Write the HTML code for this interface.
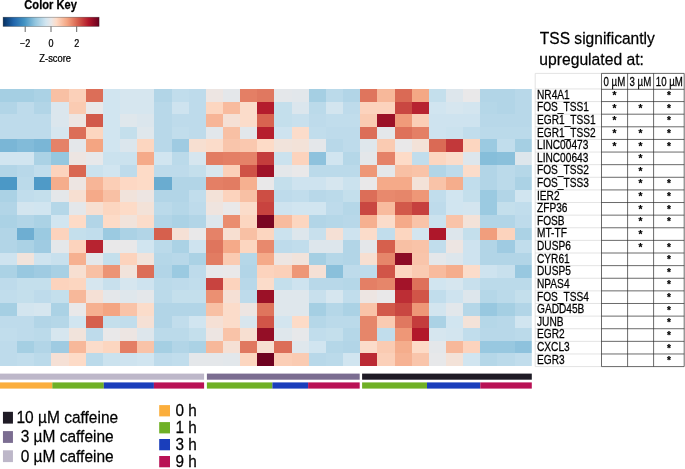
<!DOCTYPE html>
<html><head><meta charset="utf-8"><title>Heatmap</title>
<style>html,body{margin:0;padding:0;background:#fff}svg{display:block}text{font-family:"Liberation Sans",sans-serif;fill:#000;stroke:#000;stroke-width:0.25px}</style>
</head><body>
<svg width="685" height="469" viewBox="0 0 685 469">
<rect width="685" height="469" fill="#fff"/>
<defs><linearGradient id="kg" x1="0" x2="1" y1="0" y2="0">
<stop offset="0.0000" stop-color="#053061"/>
<stop offset="0.1111" stop-color="#2166AC"/>
<stop offset="0.2222" stop-color="#4393C3"/>
<stop offset="0.3333" stop-color="#92C5DE"/>
<stop offset="0.4444" stop-color="#D1E5F0"/>
<stop offset="0.5" stop-color="#e9e8e9"/>
<stop offset="0.5556" stop-color="#FDDBC7"/>
<stop offset="0.6667" stop-color="#F4A582"/>
<stop offset="0.7778" stop-color="#D6604D"/>
<stop offset="0.8889" stop-color="#B2182B"/>
<stop offset="1.0000" stop-color="#67001F"/>
</linearGradient></defs>
<text transform="translate(50.6 8.9) scale(0.92 1)" font-size="12.1" font-weight="bold" text-anchor="middle">Color Key</text>
<rect x="3.1" y="17.2" width="96" height="9.2" fill="url(#kg)" stroke="#222" stroke-opacity="0.55" stroke-width="0.6"/>
<line x1="25.2" y1="26.5" x2="25.2" y2="32" stroke="#555" stroke-width="0.9"/>
<text transform="translate(25.2 46.6) scale(0.9 1)" font-size="10.0" text-anchor="middle" fill="#111">−2</text>
<line x1="51.0" y1="26.5" x2="51.0" y2="32" stroke="#555" stroke-width="0.9"/>
<text transform="translate(51.0 46.6) scale(0.9 1)" font-size="10.0" text-anchor="middle" fill="#111">0</text>
<line x1="76.7" y1="26.5" x2="76.7" y2="32" stroke="#555" stroke-width="0.9"/>
<text transform="translate(76.7 46.6) scale(0.9 1)" font-size="10.0" text-anchor="middle" fill="#111">2</text>
<text transform="translate(55.2 61.75) scale(0.91 1)" font-size="10.3" text-anchor="middle" fill="#111">Z-score</text>
<g shape-rendering="crispEdges">
<rect x="0.00" y="89.00" width="17.75" height="13.19" fill="#a5cfe3"/>
<rect x="17.15" y="89.00" width="17.75" height="13.19" fill="#a5cfe3"/>
<rect x="34.31" y="89.00" width="17.75" height="13.19" fill="#abd2e5"/>
<rect x="51.46" y="89.00" width="17.75" height="13.19" fill="#f8c0a4"/>
<rect x="68.62" y="89.00" width="17.75" height="13.19" fill="#fbd0b9"/>
<rect x="85.77" y="89.00" width="17.75" height="13.19" fill="#dc6e58"/>
<rect x="102.93" y="89.00" width="17.75" height="13.19" fill="#d1e5f0"/>
<rect x="120.08" y="89.00" width="17.75" height="13.19" fill="#d6e6ef"/>
<rect x="137.24" y="89.00" width="17.75" height="13.19" fill="#d6e6ef"/>
<rect x="154.39" y="89.00" width="17.75" height="13.19" fill="#b2d5e7"/>
<rect x="171.55" y="89.00" width="17.75" height="13.19" fill="#c1ddec"/>
<rect x="188.70" y="89.00" width="17.75" height="13.19" fill="#bedbeb"/>
<rect x="205.86" y="89.00" width="17.75" height="13.19" fill="#ede5e2"/>
<rect x="223.01" y="89.00" width="17.75" height="13.19" fill="#e4e7ea"/>
<rect x="240.17" y="89.00" width="17.75" height="13.19" fill="#e47f65"/>
<rect x="257.32" y="89.00" width="17.75" height="13.19" fill="#e07860"/>
<rect x="274.48" y="89.00" width="17.75" height="13.19" fill="#e4e7ea"/>
<rect x="291.63" y="89.00" width="17.75" height="13.19" fill="#e2e7eb"/>
<rect x="308.79" y="89.00" width="17.75" height="13.19" fill="#a5cfe3"/>
<rect x="325.94" y="89.00" width="17.75" height="13.19" fill="#bbdaea"/>
<rect x="343.10" y="89.00" width="17.75" height="13.19" fill="#b2d5e7"/>
<rect x="360.25" y="89.00" width="17.75" height="13.19" fill="#df755d"/>
<rect x="377.41" y="89.00" width="17.75" height="13.19" fill="#f7b89a"/>
<rect x="394.56" y="89.00" width="17.75" height="13.19" fill="#da6a55"/>
<rect x="411.72" y="89.00" width="17.75" height="13.19" fill="#f4a885"/>
<rect x="428.87" y="89.00" width="17.75" height="13.19" fill="#c4dfec"/>
<rect x="446.03" y="89.00" width="17.75" height="13.19" fill="#dde6ec"/>
<rect x="463.18" y="89.00" width="17.75" height="13.19" fill="#e9e8e9"/>
<rect x="480.34" y="89.00" width="17.75" height="13.19" fill="#b2d5e7"/>
<rect x="497.49" y="89.00" width="17.75" height="13.19" fill="#b2d5e7"/>
<rect x="514.65" y="89.00" width="17.75" height="13.19" fill="#b8d8e9"/>
<rect x="0.00" y="101.59" width="17.75" height="13.19" fill="#b2d5e7"/>
<rect x="17.15" y="101.59" width="17.75" height="13.19" fill="#bedbeb"/>
<rect x="34.31" y="101.59" width="17.75" height="13.19" fill="#b2d5e7"/>
<rect x="51.46" y="101.59" width="17.75" height="13.19" fill="#dbe6ed"/>
<rect x="68.62" y="101.59" width="17.75" height="13.19" fill="#facbb2"/>
<rect x="85.77" y="101.59" width="17.75" height="13.19" fill="#e9e8e9"/>
<rect x="102.93" y="101.59" width="17.75" height="13.19" fill="#d1e5f0"/>
<rect x="120.08" y="101.59" width="17.75" height="13.19" fill="#d6e6ef"/>
<rect x="137.24" y="101.59" width="17.75" height="13.19" fill="#d6e6ef"/>
<rect x="154.39" y="101.59" width="17.75" height="13.19" fill="#b8d8e9"/>
<rect x="171.55" y="101.59" width="17.75" height="13.19" fill="#cee3ef"/>
<rect x="188.70" y="101.59" width="17.75" height="13.19" fill="#bedbeb"/>
<rect x="205.86" y="101.59" width="17.75" height="13.19" fill="#fcd6c0"/>
<rect x="223.01" y="101.59" width="17.75" height="13.19" fill="#f8bb9e"/>
<rect x="240.17" y="101.59" width="17.75" height="13.19" fill="#fbdcca"/>
<rect x="257.32" y="101.59" width="17.75" height="13.19" fill="#b41c2d"/>
<rect x="274.48" y="101.59" width="17.75" height="13.19" fill="#c4dfec"/>
<rect x="291.63" y="101.59" width="17.75" height="13.19" fill="#dbe6ed"/>
<rect x="308.79" y="101.59" width="17.75" height="13.19" fill="#bbdaea"/>
<rect x="325.94" y="101.59" width="17.75" height="13.19" fill="#d3e5ef"/>
<rect x="343.10" y="101.59" width="17.75" height="13.19" fill="#bedbeb"/>
<rect x="360.25" y="101.59" width="17.75" height="13.19" fill="#fcd3bd"/>
<rect x="377.41" y="101.59" width="17.75" height="13.19" fill="#fcd3bd"/>
<rect x="394.56" y="101.59" width="17.75" height="13.19" fill="#c94741"/>
<rect x="411.72" y="101.59" width="17.75" height="13.19" fill="#b72330"/>
<rect x="428.87" y="101.59" width="17.75" height="13.19" fill="#d1e5f0"/>
<rect x="446.03" y="101.59" width="17.75" height="13.19" fill="#d6e6ef"/>
<rect x="463.18" y="101.59" width="17.75" height="13.19" fill="#d3e5ef"/>
<rect x="480.34" y="101.59" width="17.75" height="13.19" fill="#b5d7e8"/>
<rect x="497.49" y="101.59" width="17.75" height="13.19" fill="#b2d5e7"/>
<rect x="514.65" y="101.59" width="17.75" height="13.19" fill="#b8d8e9"/>
<rect x="0.00" y="114.18" width="17.75" height="13.19" fill="#bedbeb"/>
<rect x="17.15" y="114.18" width="17.75" height="13.19" fill="#bedbeb"/>
<rect x="34.31" y="114.18" width="17.75" height="13.19" fill="#bedbeb"/>
<rect x="51.46" y="114.18" width="17.75" height="13.19" fill="#dbe6ed"/>
<rect x="68.62" y="114.18" width="17.75" height="13.19" fill="#ede5e2"/>
<rect x="85.77" y="114.18" width="17.75" height="13.19" fill="#d2594a"/>
<rect x="102.93" y="114.18" width="17.75" height="13.19" fill="#d1e5f0"/>
<rect x="120.08" y="114.18" width="17.75" height="13.19" fill="#dfe7ec"/>
<rect x="137.24" y="114.18" width="17.75" height="13.19" fill="#dbe6ed"/>
<rect x="154.39" y="114.18" width="17.75" height="13.19" fill="#b8d8e9"/>
<rect x="171.55" y="114.18" width="17.75" height="13.19" fill="#bedbeb"/>
<rect x="188.70" y="114.18" width="17.75" height="13.19" fill="#bedbeb"/>
<rect x="205.86" y="114.18" width="17.75" height="13.19" fill="#f7b597"/>
<rect x="223.01" y="114.18" width="17.75" height="13.19" fill="#f5e0d5"/>
<rect x="240.17" y="114.18" width="17.75" height="13.19" fill="#fbdcca"/>
<rect x="257.32" y="114.18" width="17.75" height="13.19" fill="#d86350"/>
<rect x="274.48" y="114.18" width="17.75" height="13.19" fill="#c4dfec"/>
<rect x="291.63" y="114.18" width="17.75" height="13.19" fill="#c8e0ed"/>
<rect x="308.79" y="114.18" width="17.75" height="13.19" fill="#bedbeb"/>
<rect x="325.94" y="114.18" width="17.75" height="13.19" fill="#c1ddec"/>
<rect x="343.10" y="114.18" width="17.75" height="13.19" fill="#c1ddec"/>
<rect x="360.25" y="114.18" width="17.75" height="13.19" fill="#facbb2"/>
<rect x="377.41" y="114.18" width="17.75" height="13.19" fill="#9b1127"/>
<rect x="394.56" y="114.18" width="17.75" height="13.19" fill="#f09b7a"/>
<rect x="411.72" y="114.18" width="17.75" height="13.19" fill="#fbceb6"/>
<rect x="428.87" y="114.18" width="17.75" height="13.19" fill="#cee3ef"/>
<rect x="446.03" y="114.18" width="17.75" height="13.19" fill="#cee3ef"/>
<rect x="463.18" y="114.18" width="17.75" height="13.19" fill="#cee3ef"/>
<rect x="480.34" y="114.18" width="17.75" height="13.19" fill="#b8d8e9"/>
<rect x="497.49" y="114.18" width="17.75" height="13.19" fill="#b8d8e9"/>
<rect x="514.65" y="114.18" width="17.75" height="13.19" fill="#b8d8e9"/>
<rect x="0.00" y="126.77" width="17.75" height="13.19" fill="#bedbeb"/>
<rect x="17.15" y="126.77" width="17.75" height="13.19" fill="#bedbeb"/>
<rect x="34.31" y="126.77" width="17.75" height="13.19" fill="#bedbeb"/>
<rect x="51.46" y="126.77" width="17.75" height="13.19" fill="#d6e6ef"/>
<rect x="68.62" y="126.77" width="17.75" height="13.19" fill="#dc6e58"/>
<rect x="85.77" y="126.77" width="17.75" height="13.19" fill="#fcd6c0"/>
<rect x="102.93" y="126.77" width="17.75" height="13.19" fill="#d1e5f0"/>
<rect x="120.08" y="126.77" width="17.75" height="13.19" fill="#c4dfec"/>
<rect x="137.24" y="126.77" width="17.75" height="13.19" fill="#dfe7ec"/>
<rect x="154.39" y="126.77" width="17.75" height="13.19" fill="#b8d8e9"/>
<rect x="171.55" y="126.77" width="17.75" height="13.19" fill="#c1ddec"/>
<rect x="188.70" y="126.77" width="17.75" height="13.19" fill="#bedbeb"/>
<rect x="205.86" y="126.77" width="17.75" height="13.19" fill="#e2e7eb"/>
<rect x="223.01" y="126.77" width="17.75" height="13.19" fill="#f8c0a4"/>
<rect x="240.17" y="126.77" width="17.75" height="13.19" fill="#e2e7eb"/>
<rect x="257.32" y="126.77" width="17.75" height="13.19" fill="#b61f2e"/>
<rect x="274.48" y="126.77" width="17.75" height="13.19" fill="#cee3ef"/>
<rect x="291.63" y="126.77" width="17.75" height="13.19" fill="#fbdcca"/>
<rect x="308.79" y="126.77" width="17.75" height="13.19" fill="#c1ddec"/>
<rect x="325.94" y="126.77" width="17.75" height="13.19" fill="#bedbeb"/>
<rect x="343.10" y="126.77" width="17.75" height="13.19" fill="#bedbeb"/>
<rect x="360.25" y="126.77" width="17.75" height="13.19" fill="#dc6e58"/>
<rect x="377.41" y="126.77" width="17.75" height="13.19" fill="#e4e7ea"/>
<rect x="394.56" y="126.77" width="17.75" height="13.19" fill="#de715a"/>
<rect x="411.72" y="126.77" width="17.75" height="13.19" fill="#e47f65"/>
<rect x="428.87" y="126.77" width="17.75" height="13.19" fill="#cee3ef"/>
<rect x="446.03" y="126.77" width="17.75" height="13.19" fill="#cbe2ee"/>
<rect x="463.18" y="126.77" width="17.75" height="13.19" fill="#c1ddec"/>
<rect x="480.34" y="126.77" width="17.75" height="13.19" fill="#bbdaea"/>
<rect x="497.49" y="126.77" width="17.75" height="13.19" fill="#bbdaea"/>
<rect x="514.65" y="126.77" width="17.75" height="13.19" fill="#bbdaea"/>
<rect x="0.00" y="139.36" width="17.75" height="13.19" fill="#7ab6d6"/>
<rect x="17.15" y="139.36" width="17.75" height="13.19" fill="#82bbd9"/>
<rect x="34.31" y="139.36" width="17.75" height="13.19" fill="#7ab6d6"/>
<rect x="51.46" y="139.36" width="17.75" height="13.19" fill="#e58268"/>
<rect x="68.62" y="139.36" width="17.75" height="13.19" fill="#e4e7ea"/>
<rect x="85.77" y="139.36" width="17.75" height="13.19" fill="#f4a582"/>
<rect x="102.93" y="139.36" width="17.75" height="13.19" fill="#d1e5f0"/>
<rect x="120.08" y="139.36" width="17.75" height="13.19" fill="#dbe6ed"/>
<rect x="137.24" y="139.36" width="17.75" height="13.19" fill="#fcd6c0"/>
<rect x="154.39" y="139.36" width="17.75" height="13.19" fill="#b8d8e9"/>
<rect x="171.55" y="139.36" width="17.75" height="13.19" fill="#9fcbe2"/>
<rect x="188.70" y="139.36" width="17.75" height="13.19" fill="#f7dfd1"/>
<rect x="205.86" y="139.36" width="17.75" height="13.19" fill="#fbdcca"/>
<rect x="223.01" y="139.36" width="17.75" height="13.19" fill="#f9c5ab"/>
<rect x="240.17" y="139.36" width="17.75" height="13.19" fill="#fac8af"/>
<rect x="257.32" y="139.36" width="17.75" height="13.19" fill="#fddbc7"/>
<rect x="274.48" y="139.36" width="17.75" height="13.19" fill="#f1e3db"/>
<rect x="291.63" y="139.36" width="17.75" height="13.19" fill="#f3e2d8"/>
<rect x="308.79" y="139.36" width="17.75" height="13.19" fill="#e4e7ea"/>
<rect x="325.94" y="139.36" width="17.75" height="13.19" fill="#b8d8e9"/>
<rect x="343.10" y="139.36" width="17.75" height="13.19" fill="#bedbeb"/>
<rect x="360.25" y="139.36" width="17.75" height="13.19" fill="#dfe7ec"/>
<rect x="377.41" y="139.36" width="17.75" height="13.19" fill="#facbb2"/>
<rect x="394.56" y="139.36" width="17.75" height="13.19" fill="#e9e8e9"/>
<rect x="411.72" y="139.36" width="17.75" height="13.19" fill="#f3e2d8"/>
<rect x="428.87" y="139.36" width="17.75" height="13.19" fill="#da6a55"/>
<rect x="446.03" y="139.36" width="17.75" height="13.19" fill="#c2383a"/>
<rect x="463.18" y="139.36" width="17.75" height="13.19" fill="#fcd6c0"/>
<rect x="480.34" y="139.36" width="17.75" height="13.19" fill="#9bcae1"/>
<rect x="497.49" y="139.36" width="17.75" height="13.19" fill="#c1ddec"/>
<rect x="514.65" y="139.36" width="17.75" height="13.19" fill="#a5cfe3"/>
<rect x="0.00" y="151.95" width="17.75" height="13.19" fill="#d1e5f0"/>
<rect x="17.15" y="151.95" width="17.75" height="13.19" fill="#d1e5f0"/>
<rect x="34.31" y="151.95" width="17.75" height="13.19" fill="#abd2e5"/>
<rect x="51.46" y="151.95" width="17.75" height="13.19" fill="#95c7df"/>
<rect x="68.62" y="151.95" width="17.75" height="13.19" fill="#ede5e2"/>
<rect x="85.77" y="151.95" width="17.75" height="13.19" fill="#e7e8ea"/>
<rect x="102.93" y="151.95" width="17.75" height="13.19" fill="#cbe2ee"/>
<rect x="120.08" y="151.95" width="17.75" height="13.19" fill="#cbe2ee"/>
<rect x="137.24" y="151.95" width="17.75" height="13.19" fill="#f5aa89"/>
<rect x="154.39" y="151.95" width="17.75" height="13.19" fill="#d1e5f0"/>
<rect x="171.55" y="151.95" width="17.75" height="13.19" fill="#bbdaea"/>
<rect x="188.70" y="151.95" width="17.75" height="13.19" fill="#d6e6ef"/>
<rect x="205.86" y="151.95" width="17.75" height="13.19" fill="#e27c62"/>
<rect x="223.01" y="151.95" width="17.75" height="13.19" fill="#e47f65"/>
<rect x="240.17" y="151.95" width="17.75" height="13.19" fill="#e58268"/>
<rect x="257.32" y="151.95" width="17.75" height="13.19" fill="#c43c3c"/>
<rect x="274.48" y="151.95" width="17.75" height="13.19" fill="#cbe2ee"/>
<rect x="291.63" y="151.95" width="17.75" height="13.19" fill="#fcd3bd"/>
<rect x="308.79" y="151.95" width="17.75" height="13.19" fill="#8ec2dd"/>
<rect x="325.94" y="151.95" width="17.75" height="13.19" fill="#d1e5f0"/>
<rect x="343.10" y="151.95" width="17.75" height="13.19" fill="#b5d7e8"/>
<rect x="360.25" y="151.95" width="17.75" height="13.19" fill="#e4e7ea"/>
<rect x="377.41" y="151.95" width="17.75" height="13.19" fill="#e58268"/>
<rect x="394.56" y="151.95" width="17.75" height="13.19" fill="#fddbc7"/>
<rect x="411.72" y="151.95" width="17.75" height="13.19" fill="#c1ddec"/>
<rect x="428.87" y="151.95" width="17.75" height="13.19" fill="#fcd6c0"/>
<rect x="446.03" y="151.95" width="17.75" height="13.19" fill="#fbdcca"/>
<rect x="463.18" y="151.95" width="17.75" height="13.19" fill="#dde6ec"/>
<rect x="480.34" y="151.95" width="17.75" height="13.19" fill="#86beda"/>
<rect x="497.49" y="151.95" width="17.75" height="13.19" fill="#8ac0db"/>
<rect x="514.65" y="151.95" width="17.75" height="13.19" fill="#dde6ec"/>
<rect x="0.00" y="164.55" width="17.75" height="13.19" fill="#b2d5e7"/>
<rect x="17.15" y="164.55" width="17.75" height="13.19" fill="#b8d8e9"/>
<rect x="34.31" y="164.55" width="17.75" height="13.19" fill="#c1ddec"/>
<rect x="51.46" y="164.55" width="17.75" height="13.19" fill="#fcd3bd"/>
<rect x="68.62" y="164.55" width="17.75" height="13.19" fill="#d96752"/>
<rect x="85.77" y="164.55" width="17.75" height="13.19" fill="#cbe2ee"/>
<rect x="102.93" y="164.55" width="17.75" height="13.19" fill="#d1e5f0"/>
<rect x="120.08" y="164.55" width="17.75" height="13.19" fill="#bedbeb"/>
<rect x="137.24" y="164.55" width="17.75" height="13.19" fill="#fddbc7"/>
<rect x="154.39" y="164.55" width="17.75" height="13.19" fill="#bedbeb"/>
<rect x="171.55" y="164.55" width="17.75" height="13.19" fill="#bedbeb"/>
<rect x="188.70" y="164.55" width="17.75" height="13.19" fill="#c4dfec"/>
<rect x="205.86" y="164.55" width="17.75" height="13.19" fill="#d8e6ee"/>
<rect x="223.01" y="164.55" width="17.75" height="13.19" fill="#fbd0b9"/>
<rect x="240.17" y="164.55" width="17.75" height="13.19" fill="#cf5246"/>
<rect x="257.32" y="164.55" width="17.75" height="13.19" fill="#9f1228"/>
<rect x="274.48" y="164.55" width="17.75" height="13.19" fill="#e4e7ea"/>
<rect x="291.63" y="164.55" width="17.75" height="13.19" fill="#e9e8e9"/>
<rect x="308.79" y="164.55" width="17.75" height="13.19" fill="#bbdaea"/>
<rect x="325.94" y="164.55" width="17.75" height="13.19" fill="#bbdaea"/>
<rect x="343.10" y="164.55" width="17.75" height="13.19" fill="#bbdaea"/>
<rect x="360.25" y="164.55" width="17.75" height="13.19" fill="#ee9777"/>
<rect x="377.41" y="164.55" width="17.75" height="13.19" fill="#e4e7ea"/>
<rect x="394.56" y="164.55" width="17.75" height="13.19" fill="#f8c0a4"/>
<rect x="411.72" y="164.55" width="17.75" height="13.19" fill="#f9c3a8"/>
<rect x="428.87" y="164.55" width="17.75" height="13.19" fill="#b2d5e7"/>
<rect x="446.03" y="164.55" width="17.75" height="13.19" fill="#bedbeb"/>
<rect x="463.18" y="164.55" width="17.75" height="13.19" fill="#fbdcca"/>
<rect x="480.34" y="164.55" width="17.75" height="13.19" fill="#b2d5e7"/>
<rect x="497.49" y="164.55" width="17.75" height="13.19" fill="#bbdaea"/>
<rect x="514.65" y="164.55" width="17.75" height="13.19" fill="#b5d7e8"/>
<rect x="0.00" y="177.14" width="17.75" height="13.19" fill="#4b98c6"/>
<rect x="17.15" y="177.14" width="17.75" height="13.19" fill="#bbdaea"/>
<rect x="34.31" y="177.14" width="17.75" height="13.19" fill="#4f9ac7"/>
<rect x="51.46" y="177.14" width="17.75" height="13.19" fill="#f5ad8c"/>
<rect x="68.62" y="177.14" width="17.75" height="13.19" fill="#ede5e2"/>
<rect x="85.77" y="177.14" width="17.75" height="13.19" fill="#f7b597"/>
<rect x="102.93" y="177.14" width="17.75" height="13.19" fill="#fbceb6"/>
<rect x="120.08" y="177.14" width="17.75" height="13.19" fill="#fdd8c4"/>
<rect x="137.24" y="177.14" width="17.75" height="13.19" fill="#fddbc7"/>
<rect x="154.39" y="177.14" width="17.75" height="13.19" fill="#6aacd0"/>
<rect x="171.55" y="177.14" width="17.75" height="13.19" fill="#b2d5e7"/>
<rect x="188.70" y="177.14" width="17.75" height="13.19" fill="#b2d5e7"/>
<rect x="205.86" y="177.14" width="17.75" height="13.19" fill="#e47f65"/>
<rect x="223.01" y="177.14" width="17.75" height="13.19" fill="#e27c62"/>
<rect x="240.17" y="177.14" width="17.75" height="13.19" fill="#f6b090"/>
<rect x="257.32" y="177.14" width="17.75" height="13.19" fill="#e9e8e9"/>
<rect x="274.48" y="177.14" width="17.75" height="13.19" fill="#c4dfec"/>
<rect x="291.63" y="177.14" width="17.75" height="13.19" fill="#cee3ef"/>
<rect x="308.79" y="177.14" width="17.75" height="13.19" fill="#cee3ef"/>
<rect x="325.94" y="177.14" width="17.75" height="13.19" fill="#d6e6ef"/>
<rect x="343.10" y="177.14" width="17.75" height="13.19" fill="#cbe2ee"/>
<rect x="360.25" y="177.14" width="17.75" height="13.19" fill="#e9e8e9"/>
<rect x="377.41" y="177.14" width="17.75" height="13.19" fill="#f5aa89"/>
<rect x="394.56" y="177.14" width="17.75" height="13.19" fill="#f5aa89"/>
<rect x="411.72" y="177.14" width="17.75" height="13.19" fill="#f3e2d8"/>
<rect x="428.87" y="177.14" width="17.75" height="13.19" fill="#f9c3a8"/>
<rect x="446.03" y="177.14" width="17.75" height="13.19" fill="#f5ad8c"/>
<rect x="463.18" y="177.14" width="17.75" height="13.19" fill="#c1ddec"/>
<rect x="480.34" y="177.14" width="17.75" height="13.19" fill="#b2d5e7"/>
<rect x="497.49" y="177.14" width="17.75" height="13.19" fill="#bbdaea"/>
<rect x="514.65" y="177.14" width="17.75" height="13.19" fill="#abd2e5"/>
<rect x="0.00" y="189.73" width="17.75" height="13.19" fill="#abd2e5"/>
<rect x="17.15" y="189.73" width="17.75" height="13.19" fill="#c1ddec"/>
<rect x="34.31" y="189.73" width="17.75" height="13.19" fill="#c4dfec"/>
<rect x="51.46" y="189.73" width="17.75" height="13.19" fill="#e4e7ea"/>
<rect x="68.62" y="189.73" width="17.75" height="13.19" fill="#f7dfd1"/>
<rect x="85.77" y="189.73" width="17.75" height="13.19" fill="#f5aa89"/>
<rect x="102.93" y="189.73" width="17.75" height="13.19" fill="#f8c0a4"/>
<rect x="120.08" y="189.73" width="17.75" height="13.19" fill="#f1e3db"/>
<rect x="137.24" y="189.73" width="17.75" height="13.19" fill="#ede5e2"/>
<rect x="154.39" y="189.73" width="17.75" height="13.19" fill="#b2d5e7"/>
<rect x="171.55" y="189.73" width="17.75" height="13.19" fill="#b2d5e7"/>
<rect x="188.70" y="189.73" width="17.75" height="13.19" fill="#c1ddec"/>
<rect x="205.86" y="189.73" width="17.75" height="13.19" fill="#f3e2d8"/>
<rect x="223.01" y="189.73" width="17.75" height="13.19" fill="#fcd3bd"/>
<rect x="240.17" y="189.73" width="17.75" height="13.19" fill="#f8c0a4"/>
<rect x="257.32" y="189.73" width="17.75" height="13.19" fill="#cd4e44"/>
<rect x="274.48" y="189.73" width="17.75" height="13.19" fill="#bedbeb"/>
<rect x="291.63" y="189.73" width="17.75" height="13.19" fill="#c1ddec"/>
<rect x="308.79" y="189.73" width="17.75" height="13.19" fill="#b8d8e9"/>
<rect x="325.94" y="189.73" width="17.75" height="13.19" fill="#bbdaea"/>
<rect x="343.10" y="189.73" width="17.75" height="13.19" fill="#c4dfec"/>
<rect x="360.25" y="189.73" width="17.75" height="13.19" fill="#dc6e58"/>
<rect x="377.41" y="189.73" width="17.75" height="13.19" fill="#e8896d"/>
<rect x="394.56" y="189.73" width="17.75" height="13.19" fill="#e6866a"/>
<rect x="411.72" y="189.73" width="17.75" height="13.19" fill="#ee9777"/>
<rect x="428.87" y="189.73" width="17.75" height="13.19" fill="#c1ddec"/>
<rect x="446.03" y="189.73" width="17.75" height="13.19" fill="#d1e5f0"/>
<rect x="463.18" y="189.73" width="17.75" height="13.19" fill="#c4dfec"/>
<rect x="480.34" y="189.73" width="17.75" height="13.19" fill="#9bcae1"/>
<rect x="497.49" y="189.73" width="17.75" height="13.19" fill="#b2d5e7"/>
<rect x="514.65" y="189.73" width="17.75" height="13.19" fill="#d1e5f0"/>
<rect x="0.00" y="202.32" width="17.75" height="13.19" fill="#b2d5e7"/>
<rect x="17.15" y="202.32" width="17.75" height="13.19" fill="#d3e5ef"/>
<rect x="34.31" y="202.32" width="17.75" height="13.19" fill="#d1e5f0"/>
<rect x="51.46" y="202.32" width="17.75" height="13.19" fill="#b5d7e8"/>
<rect x="68.62" y="202.32" width="17.75" height="13.19" fill="#e4e7ea"/>
<rect x="85.77" y="202.32" width="17.75" height="13.19" fill="#f7dfd1"/>
<rect x="102.93" y="202.32" width="17.75" height="13.19" fill="#fcd6c0"/>
<rect x="120.08" y="202.32" width="17.75" height="13.19" fill="#fddbc7"/>
<rect x="137.24" y="202.32" width="17.75" height="13.19" fill="#f3e2d8"/>
<rect x="154.39" y="202.32" width="17.75" height="13.19" fill="#bbdaea"/>
<rect x="171.55" y="202.32" width="17.75" height="13.19" fill="#b5d7e8"/>
<rect x="188.70" y="202.32" width="17.75" height="13.19" fill="#bedbeb"/>
<rect x="205.86" y="202.32" width="17.75" height="13.19" fill="#efe4df"/>
<rect x="223.01" y="202.32" width="17.75" height="13.19" fill="#e9e8e9"/>
<rect x="240.17" y="202.32" width="17.75" height="13.19" fill="#fbdcca"/>
<rect x="257.32" y="202.32" width="17.75" height="13.19" fill="#c8433f"/>
<rect x="274.48" y="202.32" width="17.75" height="13.19" fill="#cee3ef"/>
<rect x="291.63" y="202.32" width="17.75" height="13.19" fill="#d1e5f0"/>
<rect x="308.79" y="202.32" width="17.75" height="13.19" fill="#d1e5f0"/>
<rect x="325.94" y="202.32" width="17.75" height="13.19" fill="#bedbeb"/>
<rect x="343.10" y="202.32" width="17.75" height="13.19" fill="#b5d7e8"/>
<rect x="360.25" y="202.32" width="17.75" height="13.19" fill="#c94741"/>
<rect x="377.41" y="202.32" width="17.75" height="13.19" fill="#f8bb9e"/>
<rect x="394.56" y="202.32" width="17.75" height="13.19" fill="#d2594a"/>
<rect x="411.72" y="202.32" width="17.75" height="13.19" fill="#c6403e"/>
<rect x="428.87" y="202.32" width="17.75" height="13.19" fill="#bedbeb"/>
<rect x="446.03" y="202.32" width="17.75" height="13.19" fill="#d1e5f0"/>
<rect x="463.18" y="202.32" width="17.75" height="13.19" fill="#d3e5ef"/>
<rect x="480.34" y="202.32" width="17.75" height="13.19" fill="#9bcae1"/>
<rect x="497.49" y="202.32" width="17.75" height="13.19" fill="#c4dfec"/>
<rect x="514.65" y="202.32" width="17.75" height="13.19" fill="#c1ddec"/>
<rect x="0.00" y="214.91" width="17.75" height="13.19" fill="#abd2e5"/>
<rect x="17.15" y="214.91" width="17.75" height="13.19" fill="#b2d5e7"/>
<rect x="34.31" y="214.91" width="17.75" height="13.19" fill="#abd2e5"/>
<rect x="51.46" y="214.91" width="17.75" height="13.19" fill="#d1e5f0"/>
<rect x="68.62" y="214.91" width="17.75" height="13.19" fill="#fddbc7"/>
<rect x="85.77" y="214.91" width="17.75" height="13.19" fill="#b2d5e7"/>
<rect x="102.93" y="214.91" width="17.75" height="13.19" fill="#fddbc7"/>
<rect x="120.08" y="214.91" width="17.75" height="13.19" fill="#f1e3db"/>
<rect x="137.24" y="214.91" width="17.75" height="13.19" fill="#fbdcca"/>
<rect x="154.39" y="214.91" width="17.75" height="13.19" fill="#b2d5e7"/>
<rect x="171.55" y="214.91" width="17.75" height="13.19" fill="#abd2e5"/>
<rect x="188.70" y="214.91" width="17.75" height="13.19" fill="#b2d5e7"/>
<rect x="205.86" y="214.91" width="17.75" height="13.19" fill="#dde6ec"/>
<rect x="223.01" y="214.91" width="17.75" height="13.19" fill="#ea8d6f"/>
<rect x="240.17" y="214.91" width="17.75" height="13.19" fill="#fcd6c0"/>
<rect x="257.32" y="214.91" width="17.75" height="13.19" fill="#7a0622"/>
<rect x="274.48" y="214.91" width="17.75" height="13.19" fill="#f8bb9e"/>
<rect x="291.63" y="214.91" width="17.75" height="13.19" fill="#fcd6c0"/>
<rect x="308.79" y="214.91" width="17.75" height="13.19" fill="#b2d5e7"/>
<rect x="325.94" y="214.91" width="17.75" height="13.19" fill="#b5d7e8"/>
<rect x="343.10" y="214.91" width="17.75" height="13.19" fill="#b8d8e9"/>
<rect x="360.25" y="214.91" width="17.75" height="13.19" fill="#f6b090"/>
<rect x="377.41" y="214.91" width="17.75" height="13.19" fill="#fbdcca"/>
<rect x="394.56" y="214.91" width="17.75" height="13.19" fill="#f5aa89"/>
<rect x="411.72" y="214.91" width="17.75" height="13.19" fill="#f9c3a8"/>
<rect x="428.87" y="214.91" width="17.75" height="13.19" fill="#cbe2ee"/>
<rect x="446.03" y="214.91" width="17.75" height="13.19" fill="#f9c3a8"/>
<rect x="463.18" y="214.91" width="17.75" height="13.19" fill="#f3e2d8"/>
<rect x="480.34" y="214.91" width="17.75" height="13.19" fill="#b2d5e7"/>
<rect x="497.49" y="214.91" width="17.75" height="13.19" fill="#b2d5e7"/>
<rect x="514.65" y="214.91" width="17.75" height="13.19" fill="#bedbeb"/>
<rect x="0.00" y="227.50" width="17.75" height="13.19" fill="#b2d5e7"/>
<rect x="17.15" y="227.50" width="17.75" height="13.19" fill="#6eaed2"/>
<rect x="34.31" y="227.50" width="17.75" height="13.19" fill="#9bcae1"/>
<rect x="51.46" y="227.50" width="17.75" height="13.19" fill="#fcd3bd"/>
<rect x="68.62" y="227.50" width="17.75" height="13.19" fill="#c4dfec"/>
<rect x="85.77" y="227.50" width="17.75" height="13.19" fill="#c1ddec"/>
<rect x="102.93" y="227.50" width="17.75" height="13.19" fill="#9bcae1"/>
<rect x="120.08" y="227.50" width="17.75" height="13.19" fill="#abd2e5"/>
<rect x="137.24" y="227.50" width="17.75" height="13.19" fill="#b2d5e7"/>
<rect x="154.39" y="227.50" width="17.75" height="13.19" fill="#d6604d"/>
<rect x="171.55" y="227.50" width="17.75" height="13.19" fill="#f5e0d5"/>
<rect x="188.70" y="227.50" width="17.75" height="13.19" fill="#e9e8e9"/>
<rect x="205.86" y="227.50" width="17.75" height="13.19" fill="#e58268"/>
<rect x="223.01" y="227.50" width="17.75" height="13.19" fill="#f7dfd1"/>
<rect x="240.17" y="227.50" width="17.75" height="13.19" fill="#f8c0a4"/>
<rect x="257.32" y="227.50" width="17.75" height="13.19" fill="#fcd6c0"/>
<rect x="274.48" y="227.50" width="17.75" height="13.19" fill="#cbe2ee"/>
<rect x="291.63" y="227.50" width="17.75" height="13.19" fill="#dde6ec"/>
<rect x="308.79" y="227.50" width="17.75" height="13.19" fill="#c8e0ed"/>
<rect x="325.94" y="227.50" width="17.75" height="13.19" fill="#f5e0d5"/>
<rect x="343.10" y="227.50" width="17.75" height="13.19" fill="#cee3ef"/>
<rect x="360.25" y="227.50" width="17.75" height="13.19" fill="#fbdcca"/>
<rect x="377.41" y="227.50" width="17.75" height="13.19" fill="#c1ddec"/>
<rect x="394.56" y="227.50" width="17.75" height="13.19" fill="#fcd6c0"/>
<rect x="411.72" y="227.50" width="17.75" height="13.19" fill="#d3e5ef"/>
<rect x="428.87" y="227.50" width="17.75" height="13.19" fill="#ae172a"/>
<rect x="446.03" y="227.50" width="17.75" height="13.19" fill="#dde6ec"/>
<rect x="463.18" y="227.50" width="17.75" height="13.19" fill="#c4dfec"/>
<rect x="480.34" y="227.50" width="17.75" height="13.19" fill="#f19e7d"/>
<rect x="497.49" y="227.50" width="17.75" height="13.19" fill="#fcd3bd"/>
<rect x="514.65" y="227.50" width="17.75" height="13.19" fill="#abd2e5"/>
<rect x="0.00" y="240.09" width="17.75" height="13.19" fill="#b2d5e7"/>
<rect x="17.15" y="240.09" width="17.75" height="13.19" fill="#abd2e5"/>
<rect x="34.31" y="240.09" width="17.75" height="13.19" fill="#9fcbe2"/>
<rect x="51.46" y="240.09" width="17.75" height="13.19" fill="#e4e7ea"/>
<rect x="68.62" y="240.09" width="17.75" height="13.19" fill="#fcd3bd"/>
<rect x="85.77" y="240.09" width="17.75" height="13.19" fill="#b72330"/>
<rect x="102.93" y="240.09" width="17.75" height="13.19" fill="#e9e8e9"/>
<rect x="120.08" y="240.09" width="17.75" height="13.19" fill="#e9e8e9"/>
<rect x="137.24" y="240.09" width="17.75" height="13.19" fill="#d1e5f0"/>
<rect x="154.39" y="240.09" width="17.75" height="13.19" fill="#bbdaea"/>
<rect x="171.55" y="240.09" width="17.75" height="13.19" fill="#abd2e5"/>
<rect x="188.70" y="240.09" width="17.75" height="13.19" fill="#cee3ef"/>
<rect x="205.86" y="240.09" width="17.75" height="13.19" fill="#df755d"/>
<rect x="223.01" y="240.09" width="17.75" height="13.19" fill="#f5aa89"/>
<rect x="240.17" y="240.09" width="17.75" height="13.19" fill="#fcd6c0"/>
<rect x="257.32" y="240.09" width="17.75" height="13.19" fill="#e8896d"/>
<rect x="274.48" y="240.09" width="17.75" height="13.19" fill="#bedbeb"/>
<rect x="291.63" y="240.09" width="17.75" height="13.19" fill="#c1ddec"/>
<rect x="308.79" y="240.09" width="17.75" height="13.19" fill="#dde6ec"/>
<rect x="325.94" y="240.09" width="17.75" height="13.19" fill="#dde6ec"/>
<rect x="343.10" y="240.09" width="17.75" height="13.19" fill="#b2d5e7"/>
<rect x="360.25" y="240.09" width="17.75" height="13.19" fill="#e4e7ea"/>
<rect x="377.41" y="240.09" width="17.75" height="13.19" fill="#d6604d"/>
<rect x="394.56" y="240.09" width="17.75" height="13.19" fill="#f8c0a4"/>
<rect x="411.72" y="240.09" width="17.75" height="13.19" fill="#f9c3a8"/>
<rect x="428.87" y="240.09" width="17.75" height="13.19" fill="#c1ddec"/>
<rect x="446.03" y="240.09" width="17.75" height="13.19" fill="#ede5e2"/>
<rect x="463.18" y="240.09" width="17.75" height="13.19" fill="#cee3ef"/>
<rect x="480.34" y="240.09" width="17.75" height="13.19" fill="#b2d5e7"/>
<rect x="497.49" y="240.09" width="17.75" height="13.19" fill="#9fcbe2"/>
<rect x="514.65" y="240.09" width="17.75" height="13.19" fill="#c1ddec"/>
<rect x="0.00" y="252.68" width="17.75" height="13.19" fill="#cee3ef"/>
<rect x="17.15" y="252.68" width="17.75" height="13.19" fill="#f1e3db"/>
<rect x="34.31" y="252.68" width="17.75" height="13.19" fill="#cee3ef"/>
<rect x="51.46" y="252.68" width="17.75" height="13.19" fill="#c8e0ed"/>
<rect x="68.62" y="252.68" width="17.75" height="13.19" fill="#f6b090"/>
<rect x="85.77" y="252.68" width="17.75" height="13.19" fill="#e4e7ea"/>
<rect x="102.93" y="252.68" width="17.75" height="13.19" fill="#c4dfec"/>
<rect x="120.08" y="252.68" width="17.75" height="13.19" fill="#fcd3bd"/>
<rect x="137.24" y="252.68" width="17.75" height="13.19" fill="#f1e3db"/>
<rect x="154.39" y="252.68" width="17.75" height="13.19" fill="#b5d7e8"/>
<rect x="171.55" y="252.68" width="17.75" height="13.19" fill="#b8d8e9"/>
<rect x="188.70" y="252.68" width="17.75" height="13.19" fill="#abd2e5"/>
<rect x="205.86" y="252.68" width="17.75" height="13.19" fill="#e27c62"/>
<rect x="223.01" y="252.68" width="17.75" height="13.19" fill="#facbb2"/>
<rect x="240.17" y="252.68" width="17.75" height="13.19" fill="#b5d7e8"/>
<rect x="257.32" y="252.68" width="17.75" height="13.19" fill="#f5aa89"/>
<rect x="274.48" y="252.68" width="17.75" height="13.19" fill="#ede5e2"/>
<rect x="291.63" y="252.68" width="17.75" height="13.19" fill="#f1e3db"/>
<rect x="308.79" y="252.68" width="17.75" height="13.19" fill="#a5cfe3"/>
<rect x="325.94" y="252.68" width="17.75" height="13.19" fill="#b5d7e8"/>
<rect x="343.10" y="252.68" width="17.75" height="13.19" fill="#b2d5e7"/>
<rect x="360.25" y="252.68" width="17.75" height="13.19" fill="#f7dfd1"/>
<rect x="377.41" y="252.68" width="17.75" height="13.19" fill="#e6866a"/>
<rect x="394.56" y="252.68" width="17.75" height="13.19" fill="#8c0c25"/>
<rect x="411.72" y="252.68" width="17.75" height="13.19" fill="#f9c5ab"/>
<rect x="428.87" y="252.68" width="17.75" height="13.19" fill="#e4e7ea"/>
<rect x="446.03" y="252.68" width="17.75" height="13.19" fill="#dde6ec"/>
<rect x="463.18" y="252.68" width="17.75" height="13.19" fill="#cee3ef"/>
<rect x="480.34" y="252.68" width="17.75" height="13.19" fill="#b2d5e7"/>
<rect x="497.49" y="252.68" width="17.75" height="13.19" fill="#b2d5e7"/>
<rect x="514.65" y="252.68" width="17.75" height="13.19" fill="#b2d5e7"/>
<rect x="0.00" y="265.27" width="17.75" height="13.19" fill="#abd2e5"/>
<rect x="17.15" y="265.27" width="17.75" height="13.19" fill="#98c8e0"/>
<rect x="34.31" y="265.27" width="17.75" height="13.19" fill="#9fcbe2"/>
<rect x="51.46" y="265.27" width="17.75" height="13.19" fill="#a8d0e4"/>
<rect x="68.62" y="265.27" width="17.75" height="13.19" fill="#f7dfd1"/>
<rect x="85.77" y="265.27" width="17.75" height="13.19" fill="#f8c0a4"/>
<rect x="102.93" y="265.27" width="17.75" height="13.19" fill="#ec9475"/>
<rect x="120.08" y="265.27" width="17.75" height="13.19" fill="#f1e3db"/>
<rect x="137.24" y="265.27" width="17.75" height="13.19" fill="#dc6e58"/>
<rect x="154.39" y="265.27" width="17.75" height="13.19" fill="#b2d5e7"/>
<rect x="171.55" y="265.27" width="17.75" height="13.19" fill="#9bcae1"/>
<rect x="188.70" y="265.27" width="17.75" height="13.19" fill="#bedbeb"/>
<rect x="205.86" y="265.27" width="17.75" height="13.19" fill="#e7e8ea"/>
<rect x="223.01" y="265.27" width="17.75" height="13.19" fill="#e9e8e9"/>
<rect x="240.17" y="265.27" width="17.75" height="13.19" fill="#b2d5e7"/>
<rect x="257.32" y="265.27" width="17.75" height="13.19" fill="#fcd3bd"/>
<rect x="274.48" y="265.27" width="17.75" height="13.19" fill="#fbd0b9"/>
<rect x="291.63" y="265.27" width="17.75" height="13.19" fill="#ee9777"/>
<rect x="308.79" y="265.27" width="17.75" height="13.19" fill="#f5e0d5"/>
<rect x="325.94" y="265.27" width="17.75" height="13.19" fill="#8ac0db"/>
<rect x="343.10" y="265.27" width="17.75" height="13.19" fill="#bedbeb"/>
<rect x="360.25" y="265.27" width="17.75" height="13.19" fill="#bedbeb"/>
<rect x="377.41" y="265.27" width="17.75" height="13.19" fill="#d15548"/>
<rect x="394.56" y="265.27" width="17.75" height="13.19" fill="#fcd6c0"/>
<rect x="411.72" y="265.27" width="17.75" height="13.19" fill="#facbb2"/>
<rect x="428.87" y="265.27" width="17.75" height="13.19" fill="#f8bb9e"/>
<rect x="446.03" y="265.27" width="17.75" height="13.19" fill="#f5ad8c"/>
<rect x="463.18" y="265.27" width="17.75" height="13.19" fill="#fbdcca"/>
<rect x="480.34" y="265.27" width="17.75" height="13.19" fill="#cee3ef"/>
<rect x="497.49" y="265.27" width="17.75" height="13.19" fill="#c8e0ed"/>
<rect x="514.65" y="265.27" width="17.75" height="13.19" fill="#98c8e0"/>
<rect x="0.00" y="277.86" width="17.75" height="13.19" fill="#bedbeb"/>
<rect x="17.15" y="277.86" width="17.75" height="13.19" fill="#c4dfec"/>
<rect x="34.31" y="277.86" width="17.75" height="13.19" fill="#c4dfec"/>
<rect x="51.46" y="277.86" width="17.75" height="13.19" fill="#fcd3bd"/>
<rect x="68.62" y="277.86" width="17.75" height="13.19" fill="#fcd6c0"/>
<rect x="85.77" y="277.86" width="17.75" height="13.19" fill="#d6e6ef"/>
<rect x="102.93" y="277.86" width="17.75" height="13.19" fill="#c8e0ed"/>
<rect x="120.08" y="277.86" width="17.75" height="13.19" fill="#d6e6ef"/>
<rect x="137.24" y="277.86" width="17.75" height="13.19" fill="#cee3ef"/>
<rect x="154.39" y="277.86" width="17.75" height="13.19" fill="#bbdaea"/>
<rect x="171.55" y="277.86" width="17.75" height="13.19" fill="#bedbeb"/>
<rect x="188.70" y="277.86" width="17.75" height="13.19" fill="#c1ddec"/>
<rect x="205.86" y="277.86" width="17.75" height="13.19" fill="#c8433f"/>
<rect x="223.01" y="277.86" width="17.75" height="13.19" fill="#fcd3bd"/>
<rect x="240.17" y="277.86" width="17.75" height="13.19" fill="#b8d8e9"/>
<rect x="257.32" y="277.86" width="17.75" height="13.19" fill="#fbdcca"/>
<rect x="274.48" y="277.86" width="17.75" height="13.19" fill="#c4dfec"/>
<rect x="291.63" y="277.86" width="17.75" height="13.19" fill="#cee3ef"/>
<rect x="308.79" y="277.86" width="17.75" height="13.19" fill="#b8d8e9"/>
<rect x="325.94" y="277.86" width="17.75" height="13.19" fill="#b8d8e9"/>
<rect x="343.10" y="277.86" width="17.75" height="13.19" fill="#b5d7e8"/>
<rect x="360.25" y="277.86" width="17.75" height="13.19" fill="#e47f65"/>
<rect x="377.41" y="277.86" width="17.75" height="13.19" fill="#e6866a"/>
<rect x="394.56" y="277.86" width="17.75" height="13.19" fill="#a31329"/>
<rect x="411.72" y="277.86" width="17.75" height="13.19" fill="#de715a"/>
<rect x="428.87" y="277.86" width="17.75" height="13.19" fill="#d1e5f0"/>
<rect x="446.03" y="277.86" width="17.75" height="13.19" fill="#d6e6ef"/>
<rect x="463.18" y="277.86" width="17.75" height="13.19" fill="#c8e0ed"/>
<rect x="480.34" y="277.86" width="17.75" height="13.19" fill="#bbdaea"/>
<rect x="497.49" y="277.86" width="17.75" height="13.19" fill="#bbdaea"/>
<rect x="514.65" y="277.86" width="17.75" height="13.19" fill="#bbdaea"/>
<rect x="0.00" y="290.45" width="17.75" height="13.19" fill="#c1ddec"/>
<rect x="17.15" y="290.45" width="17.75" height="13.19" fill="#c4dfec"/>
<rect x="34.31" y="290.45" width="17.75" height="13.19" fill="#bedbeb"/>
<rect x="51.46" y="290.45" width="17.75" height="13.19" fill="#c4dfec"/>
<rect x="68.62" y="290.45" width="17.75" height="13.19" fill="#f7b89a"/>
<rect x="85.77" y="290.45" width="17.75" height="13.19" fill="#f5e0d5"/>
<rect x="102.93" y="290.45" width="17.75" height="13.19" fill="#e4e7ea"/>
<rect x="120.08" y="290.45" width="17.75" height="13.19" fill="#dfe7ec"/>
<rect x="137.24" y="290.45" width="17.75" height="13.19" fill="#e4e7ea"/>
<rect x="154.39" y="290.45" width="17.75" height="13.19" fill="#bbdaea"/>
<rect x="171.55" y="290.45" width="17.75" height="13.19" fill="#c4dfec"/>
<rect x="188.70" y="290.45" width="17.75" height="13.19" fill="#c4dfec"/>
<rect x="205.86" y="290.45" width="17.75" height="13.19" fill="#eb9072"/>
<rect x="223.01" y="290.45" width="17.75" height="13.19" fill="#f5e0d5"/>
<rect x="240.17" y="290.45" width="17.75" height="13.19" fill="#bedbeb"/>
<rect x="257.32" y="290.45" width="17.75" height="13.19" fill="#9b1127"/>
<rect x="274.48" y="290.45" width="17.75" height="13.19" fill="#dfe7ec"/>
<rect x="291.63" y="290.45" width="17.75" height="13.19" fill="#dfe7ec"/>
<rect x="308.79" y="290.45" width="17.75" height="13.19" fill="#c8e0ed"/>
<rect x="325.94" y="290.45" width="17.75" height="13.19" fill="#d6e6ef"/>
<rect x="343.10" y="290.45" width="17.75" height="13.19" fill="#c1ddec"/>
<rect x="360.25" y="290.45" width="17.75" height="13.19" fill="#ede5e2"/>
<rect x="377.41" y="290.45" width="17.75" height="13.19" fill="#e9e8e9"/>
<rect x="394.56" y="290.45" width="17.75" height="13.19" fill="#bd2e35"/>
<rect x="411.72" y="290.45" width="17.75" height="13.19" fill="#d15548"/>
<rect x="428.87" y="290.45" width="17.75" height="13.19" fill="#c1ddec"/>
<rect x="446.03" y="290.45" width="17.75" height="13.19" fill="#cee3ef"/>
<rect x="463.18" y="290.45" width="17.75" height="13.19" fill="#dde6ec"/>
<rect x="480.34" y="290.45" width="17.75" height="13.19" fill="#b5d7e8"/>
<rect x="497.49" y="290.45" width="17.75" height="13.19" fill="#bbdaea"/>
<rect x="514.65" y="290.45" width="17.75" height="13.19" fill="#c4dfec"/>
<rect x="0.00" y="303.05" width="17.75" height="13.19" fill="#a5cfe3"/>
<rect x="17.15" y="303.05" width="17.75" height="13.19" fill="#d3e5ef"/>
<rect x="34.31" y="303.05" width="17.75" height="13.19" fill="#d6e6ef"/>
<rect x="51.46" y="303.05" width="17.75" height="13.19" fill="#abd2e5"/>
<rect x="68.62" y="303.05" width="17.75" height="13.19" fill="#e9e8e9"/>
<rect x="85.77" y="303.05" width="17.75" height="13.19" fill="#f6b090"/>
<rect x="102.93" y="303.05" width="17.75" height="13.19" fill="#f4a582"/>
<rect x="120.08" y="303.05" width="17.75" height="13.19" fill="#f9c3a8"/>
<rect x="137.24" y="303.05" width="17.75" height="13.19" fill="#fbdcca"/>
<rect x="154.39" y="303.05" width="17.75" height="13.19" fill="#b2d5e7"/>
<rect x="171.55" y="303.05" width="17.75" height="13.19" fill="#b2d5e7"/>
<rect x="188.70" y="303.05" width="17.75" height="13.19" fill="#b2d5e7"/>
<rect x="205.86" y="303.05" width="17.75" height="13.19" fill="#f8c0a4"/>
<rect x="223.01" y="303.05" width="17.75" height="13.19" fill="#fbdcca"/>
<rect x="240.17" y="303.05" width="17.75" height="13.19" fill="#ede5e2"/>
<rect x="257.32" y="303.05" width="17.75" height="13.19" fill="#df755d"/>
<rect x="274.48" y="303.05" width="17.75" height="13.19" fill="#dfe7ec"/>
<rect x="291.63" y="303.05" width="17.75" height="13.19" fill="#dfe7ec"/>
<rect x="308.79" y="303.05" width="17.75" height="13.19" fill="#a5cfe3"/>
<rect x="325.94" y="303.05" width="17.75" height="13.19" fill="#b5d7e8"/>
<rect x="343.10" y="303.05" width="17.75" height="13.19" fill="#abd2e5"/>
<rect x="360.25" y="303.05" width="17.75" height="13.19" fill="#f9c3a8"/>
<rect x="377.41" y="303.05" width="17.75" height="13.19" fill="#d2594a"/>
<rect x="394.56" y="303.05" width="17.75" height="13.19" fill="#c94741"/>
<rect x="411.72" y="303.05" width="17.75" height="13.19" fill="#ee9777"/>
<rect x="428.87" y="303.05" width="17.75" height="13.19" fill="#d3e5ef"/>
<rect x="446.03" y="303.05" width="17.75" height="13.19" fill="#e2e7eb"/>
<rect x="463.18" y="303.05" width="17.75" height="13.19" fill="#b5d7e8"/>
<rect x="480.34" y="303.05" width="17.75" height="13.19" fill="#98c8e0"/>
<rect x="497.49" y="303.05" width="17.75" height="13.19" fill="#a5cfe3"/>
<rect x="514.65" y="303.05" width="17.75" height="13.19" fill="#b2d5e7"/>
<rect x="0.00" y="315.64" width="17.75" height="13.19" fill="#bedbeb"/>
<rect x="17.15" y="315.64" width="17.75" height="13.19" fill="#bedbeb"/>
<rect x="34.31" y="315.64" width="17.75" height="13.19" fill="#b2d5e7"/>
<rect x="51.46" y="315.64" width="17.75" height="13.19" fill="#b5d7e8"/>
<rect x="68.62" y="315.64" width="17.75" height="13.19" fill="#d1e5f0"/>
<rect x="85.77" y="315.64" width="17.75" height="13.19" fill="#d6604d"/>
<rect x="102.93" y="315.64" width="17.75" height="13.19" fill="#c4dfec"/>
<rect x="120.08" y="315.64" width="17.75" height="13.19" fill="#c1ddec"/>
<rect x="137.24" y="315.64" width="17.75" height="13.19" fill="#f5e0d5"/>
<rect x="154.39" y="315.64" width="17.75" height="13.19" fill="#b2d5e7"/>
<rect x="171.55" y="315.64" width="17.75" height="13.19" fill="#c1ddec"/>
<rect x="188.70" y="315.64" width="17.75" height="13.19" fill="#d1e5f0"/>
<rect x="205.86" y="315.64" width="17.75" height="13.19" fill="#f5e0d5"/>
<rect x="223.01" y="315.64" width="17.75" height="13.19" fill="#fbdcca"/>
<rect x="240.17" y="315.64" width="17.75" height="13.19" fill="#d8e6ee"/>
<rect x="257.32" y="315.64" width="17.75" height="13.19" fill="#d15548"/>
<rect x="274.48" y="315.64" width="17.75" height="13.19" fill="#d3e5ef"/>
<rect x="291.63" y="315.64" width="17.75" height="13.19" fill="#fddbc7"/>
<rect x="308.79" y="315.64" width="17.75" height="13.19" fill="#b5d7e8"/>
<rect x="325.94" y="315.64" width="17.75" height="13.19" fill="#bbdaea"/>
<rect x="343.10" y="315.64" width="17.75" height="13.19" fill="#bbdaea"/>
<rect x="360.25" y="315.64" width="17.75" height="13.19" fill="#e6866a"/>
<rect x="377.41" y="315.64" width="17.75" height="13.19" fill="#facbb2"/>
<rect x="394.56" y="315.64" width="17.75" height="13.19" fill="#e07860"/>
<rect x="411.72" y="315.64" width="17.75" height="13.19" fill="#c43c3c"/>
<rect x="428.87" y="315.64" width="17.75" height="13.19" fill="#abd2e5"/>
<rect x="446.03" y="315.64" width="17.75" height="13.19" fill="#d1e5f0"/>
<rect x="463.18" y="315.64" width="17.75" height="13.19" fill="#f3e2d8"/>
<rect x="480.34" y="315.64" width="17.75" height="13.19" fill="#b5d7e8"/>
<rect x="497.49" y="315.64" width="17.75" height="13.19" fill="#b8d8e9"/>
<rect x="514.65" y="315.64" width="17.75" height="13.19" fill="#d1e5f0"/>
<rect x="0.00" y="328.23" width="17.75" height="13.19" fill="#c1ddec"/>
<rect x="17.15" y="328.23" width="17.75" height="13.19" fill="#bedbeb"/>
<rect x="34.31" y="328.23" width="17.75" height="13.19" fill="#bbdaea"/>
<rect x="51.46" y="328.23" width="17.75" height="13.19" fill="#d6e6ef"/>
<rect x="68.62" y="328.23" width="17.75" height="13.19" fill="#f1e3db"/>
<rect x="85.77" y="328.23" width="17.75" height="13.19" fill="#bedbeb"/>
<rect x="102.93" y="328.23" width="17.75" height="13.19" fill="#e9e8e9"/>
<rect x="120.08" y="328.23" width="17.75" height="13.19" fill="#ede5e2"/>
<rect x="137.24" y="328.23" width="17.75" height="13.19" fill="#dde6ec"/>
<rect x="154.39" y="328.23" width="17.75" height="13.19" fill="#bbdaea"/>
<rect x="171.55" y="328.23" width="17.75" height="13.19" fill="#bbdaea"/>
<rect x="188.70" y="328.23" width="17.75" height="13.19" fill="#c4dfec"/>
<rect x="205.86" y="328.23" width="17.75" height="13.19" fill="#ede5e2"/>
<rect x="223.01" y="328.23" width="17.75" height="13.19" fill="#f9c3a8"/>
<rect x="240.17" y="328.23" width="17.75" height="13.19" fill="#f7dfd1"/>
<rect x="257.32" y="328.23" width="17.75" height="13.19" fill="#940e26"/>
<rect x="274.48" y="328.23" width="17.75" height="13.19" fill="#dfe7ec"/>
<rect x="291.63" y="328.23" width="17.75" height="13.19" fill="#e7e8ea"/>
<rect x="308.79" y="328.23" width="17.75" height="13.19" fill="#c1ddec"/>
<rect x="325.94" y="328.23" width="17.75" height="13.19" fill="#c4dfec"/>
<rect x="343.10" y="328.23" width="17.75" height="13.19" fill="#b5d7e8"/>
<rect x="360.25" y="328.23" width="17.75" height="13.19" fill="#e6866a"/>
<rect x="377.41" y="328.23" width="17.75" height="13.19" fill="#c1ddec"/>
<rect x="394.56" y="328.23" width="17.75" height="13.19" fill="#ee9777"/>
<rect x="411.72" y="328.23" width="17.75" height="13.19" fill="#b2182b"/>
<rect x="428.87" y="328.23" width="17.75" height="13.19" fill="#d6e6ef"/>
<rect x="446.03" y="328.23" width="17.75" height="13.19" fill="#d3e5ef"/>
<rect x="463.18" y="328.23" width="17.75" height="13.19" fill="#c1ddec"/>
<rect x="480.34" y="328.23" width="17.75" height="13.19" fill="#b8d8e9"/>
<rect x="497.49" y="328.23" width="17.75" height="13.19" fill="#b8d8e9"/>
<rect x="514.65" y="328.23" width="17.75" height="13.19" fill="#bbdaea"/>
<rect x="0.00" y="340.82" width="17.75" height="13.19" fill="#bedbeb"/>
<rect x="17.15" y="340.82" width="17.75" height="13.19" fill="#a5cfe3"/>
<rect x="34.31" y="340.82" width="17.75" height="13.19" fill="#b2d5e7"/>
<rect x="51.46" y="340.82" width="17.75" height="13.19" fill="#9fcbe2"/>
<rect x="68.62" y="340.82" width="17.75" height="13.19" fill="#f7b89a"/>
<rect x="85.77" y="340.82" width="17.75" height="13.19" fill="#fbdcca"/>
<rect x="102.93" y="340.82" width="17.75" height="13.19" fill="#fcd6c0"/>
<rect x="120.08" y="340.82" width="17.75" height="13.19" fill="#e47f65"/>
<rect x="137.24" y="340.82" width="17.75" height="13.19" fill="#f9c3a8"/>
<rect x="154.39" y="340.82" width="17.75" height="13.19" fill="#a5cfe3"/>
<rect x="171.55" y="340.82" width="17.75" height="13.19" fill="#b2d5e7"/>
<rect x="188.70" y="340.82" width="17.75" height="13.19" fill="#abd2e5"/>
<rect x="205.86" y="340.82" width="17.75" height="13.19" fill="#f7b89a"/>
<rect x="223.01" y="340.82" width="17.75" height="13.19" fill="#f5e0d5"/>
<rect x="240.17" y="340.82" width="17.75" height="13.19" fill="#e07860"/>
<rect x="257.32" y="340.82" width="17.75" height="13.19" fill="#f7dfd1"/>
<rect x="274.48" y="340.82" width="17.75" height="13.19" fill="#dc6e58"/>
<rect x="291.63" y="340.82" width="17.75" height="13.19" fill="#dfe7ec"/>
<rect x="308.79" y="340.82" width="17.75" height="13.19" fill="#d1e5f0"/>
<rect x="325.94" y="340.82" width="17.75" height="13.19" fill="#b5d7e8"/>
<rect x="343.10" y="340.82" width="17.75" height="13.19" fill="#b2d5e7"/>
<rect x="360.25" y="340.82" width="17.75" height="13.19" fill="#fbdcca"/>
<rect x="377.41" y="340.82" width="17.75" height="13.19" fill="#facbb2"/>
<rect x="394.56" y="340.82" width="17.75" height="13.19" fill="#f5ad8c"/>
<rect x="411.72" y="340.82" width="17.75" height="13.19" fill="#fddbc7"/>
<rect x="428.87" y="340.82" width="17.75" height="13.19" fill="#e4e7ea"/>
<rect x="446.03" y="340.82" width="17.75" height="13.19" fill="#f7b89a"/>
<rect x="463.18" y="340.82" width="17.75" height="13.19" fill="#fcd3bd"/>
<rect x="480.34" y="340.82" width="17.75" height="13.19" fill="#98c8e0"/>
<rect x="497.49" y="340.82" width="17.75" height="13.19" fill="#98c8e0"/>
<rect x="514.65" y="340.82" width="17.75" height="13.19" fill="#8ec2dd"/>
<rect x="0.00" y="353.41" width="17.75" height="13.19" fill="#bedbeb"/>
<rect x="17.15" y="353.41" width="17.75" height="13.19" fill="#c1ddec"/>
<rect x="34.31" y="353.41" width="17.75" height="13.19" fill="#bbdaea"/>
<rect x="51.46" y="353.41" width="17.75" height="13.19" fill="#f5e0d5"/>
<rect x="68.62" y="353.41" width="17.75" height="13.19" fill="#fddbc7"/>
<rect x="85.77" y="353.41" width="17.75" height="13.19" fill="#bbdaea"/>
<rect x="102.93" y="353.41" width="17.75" height="13.19" fill="#cbe2ee"/>
<rect x="120.08" y="353.41" width="17.75" height="13.19" fill="#cee3ef"/>
<rect x="137.24" y="353.41" width="17.75" height="13.19" fill="#d1e5f0"/>
<rect x="154.39" y="353.41" width="17.75" height="13.19" fill="#bedbeb"/>
<rect x="171.55" y="353.41" width="17.75" height="13.19" fill="#c1ddec"/>
<rect x="188.70" y="353.41" width="17.75" height="13.19" fill="#e4e7ea"/>
<rect x="205.86" y="353.41" width="17.75" height="13.19" fill="#e4e7ea"/>
<rect x="223.01" y="353.41" width="17.75" height="13.19" fill="#e2e7eb"/>
<rect x="240.17" y="353.41" width="17.75" height="13.19" fill="#fcd6c0"/>
<rect x="257.32" y="353.41" width="17.75" height="13.19" fill="#6e0220"/>
<rect x="274.48" y="353.41" width="17.75" height="13.19" fill="#fbceb6"/>
<rect x="291.63" y="353.41" width="17.75" height="13.19" fill="#facbb2"/>
<rect x="308.79" y="353.41" width="17.75" height="13.19" fill="#b8d8e9"/>
<rect x="325.94" y="353.41" width="17.75" height="13.19" fill="#bbdaea"/>
<rect x="343.10" y="353.41" width="17.75" height="13.19" fill="#d1e5f0"/>
<rect x="360.25" y="353.41" width="17.75" height="13.19" fill="#bb2a34"/>
<rect x="377.41" y="353.41" width="17.75" height="13.19" fill="#fbd0b9"/>
<rect x="394.56" y="353.41" width="17.75" height="13.19" fill="#f6b293"/>
<rect x="411.72" y="353.41" width="17.75" height="13.19" fill="#f9c5ab"/>
<rect x="428.87" y="353.41" width="17.75" height="13.19" fill="#e7e8ea"/>
<rect x="446.03" y="353.41" width="17.75" height="13.19" fill="#f3e2d8"/>
<rect x="463.18" y="353.41" width="17.75" height="13.19" fill="#d1e5f0"/>
<rect x="480.34" y="353.41" width="17.75" height="13.19" fill="#b5d7e8"/>
<rect x="497.49" y="353.41" width="17.75" height="13.19" fill="#bbdaea"/>
<rect x="514.65" y="353.41" width="17.75" height="13.19" fill="#c1ddec"/>
</g>
<rect x="531.80" y="88.0" width="3" height="280.0" fill="#fff"/>
<rect x="0" y="366.00" width="533.8" height="3" fill="#fff"/>
<rect x="0" y="373.6" width="204.1" height="6.1" fill="#BDB7C9"/>
<rect x="206.9" y="373.6" width="152.8" height="6.1" fill="#7B6D91"/>
<rect x="362.1" y="373.6" width="169.7" height="6.1" fill="#1F1B25"/>
<rect x="0" y="382.4" width="52.3" height="6.2" fill="#FBAE3C"/>
<rect x="52.3" y="382.4" width="51.5" height="6.2" fill="#6FB025"/>
<rect x="103.8" y="382.4" width="50.1" height="6.2" fill="#1A3EBB"/>
<rect x="153.9" y="382.4" width="50.2" height="6.2" fill="#B91255"/>
<rect x="206.9" y="382.4" width="65.5" height="6.2" fill="#6FB025"/>
<rect x="272.4" y="382.4" width="35.7" height="6.2" fill="#1A3EBB"/>
<rect x="308.1" y="382.4" width="51.6" height="6.2" fill="#B91255"/>
<rect x="362.1" y="382.4" width="64.9" height="6.2" fill="#6FB025"/>
<rect x="427" y="382.4" width="53.3" height="6.2" fill="#1A3EBB"/>
<rect x="480.3" y="382.4" width="51.5" height="6.2" fill="#B91255"/>
<rect x="2.95" y="411.8" width="10" height="11.8" fill="#1F1B25"/>
<text transform="translate(16.5 423.1) scale(0.89 1)" font-size="17.4">10 µM caffeine</text>
<rect x="2.95" y="431.1" width="10" height="11.8" fill="#7B6D91"/>
<text transform="translate(20.7 442.4) scale(0.89 1)" font-size="17.4">3 µM caffeine</text>
<rect x="2.95" y="450.3" width="10" height="11.8" fill="#BDB7C9"/>
<text transform="translate(20.7 461.6) scale(0.89 1)" font-size="17.4">0 µM caffeine</text>
<rect x="159.2" y="405.1" width="10.8" height="11.3" fill="#FBAE3C"/>
<text transform="translate(175.4 416.2) scale(0.89 1)" font-size="17.2">0 h</text>
<rect x="159.2" y="422.1" width="10.8" height="11.3" fill="#6FB025"/>
<text transform="translate(175.4 433.2) scale(0.89 1)" font-size="17.2">1 h</text>
<rect x="159.2" y="439.0" width="10.8" height="11.3" fill="#1A3EBB"/>
<text transform="translate(175.4 450.1) scale(0.89 1)" font-size="17.2">3 h</text>
<rect x="159.2" y="456.0" width="10.8" height="11.3" fill="#B91255"/>
<text transform="translate(175.4 467.1) scale(0.89 1)" font-size="17.2">9 h</text>
<text transform="translate(539.8 44.4) scale(0.905 1)" font-size="17.2">TSS significantly</text>
<text transform="translate(539.3 64.8) scale(0.912 1)" font-size="17.2">upregulated at:</text>
<g stroke="#dcdcdc" stroke-width="0.8" fill="none">
<path d="M535.2 73.4V366.59M535.2 73.4H601.5
M535.2 88.95H601.5
M535.2 101.57H601.5
M535.2 114.19H601.5
M535.2 126.81H601.5
M535.2 139.43H601.5
M535.2 152.05H601.5
M535.2 164.67H601.5
M535.2 177.29H601.5
M535.2 189.91H601.5
M535.2 202.53H601.5
M535.2 215.15H601.5
M535.2 227.77H601.5
M535.2 240.39H601.5
M535.2 253.01H601.5
M535.2 265.63H601.5
M535.2 278.25H601.5
M535.2 290.87H601.5
M535.2 303.49H601.5
M535.2 316.11H601.5
M535.2 328.73H601.5
M535.2 341.35H601.5
M535.2 353.97H601.5
M535.2 366.59H601.5
"/></g>
<g stroke="#303030" stroke-width="0.72" fill="none">
<path d="M601.5 73.4V366.59M627.6 73.4V366.59M653.6 73.4V366.59M684.2 73.4V366.59M601.5 73.4H684.2M601.5 89.30H684.2M601.5 101.57H684.2M601.5 114.19H684.2M601.5 126.81H684.2M601.5 139.43H684.2M601.5 152.05H684.2M601.5 164.67H684.2M601.5 177.29H684.2M601.5 189.91H684.2M601.5 202.53H684.2M601.5 215.15H684.2M601.5 227.77H684.2M601.5 240.39H684.2M601.5 253.01H684.2M601.5 265.63H684.2M601.5 278.25H684.2M601.5 290.87H684.2M601.5 303.49H684.2M601.5 316.11H684.2M601.5 328.73H684.2M601.5 341.35H684.2M601.5 353.97H684.2M601.5 366.59H684.2"/></g>
<text transform="translate(614.40 85.80) scale(0.8 1)" font-size="12.1" text-anchor="middle">0 µM</text>
<text transform="translate(640.40 85.80) scale(0.8 1)" font-size="12.1" text-anchor="middle">3 µM</text>
<text transform="translate(669.30 85.80) scale(0.8 1)" font-size="12.1" text-anchor="middle">10 µM</text>
<text transform="translate(537.00 98.65) scale(0.84 1)" font-size="12.1" text-anchor="start">NR4A1</text>
<text x="614.4" y="99.15" font-size="10" font-weight="bold" text-anchor="middle">*</text>
<text x="668.9" y="99.15" font-size="10" font-weight="bold" text-anchor="middle">*</text>
<text transform="translate(537.00 111.27) scale(0.84 1)" font-size="12.1" text-anchor="start">FOS_TSS1</text>
<text x="614.4" y="111.77" font-size="10" font-weight="bold" text-anchor="middle">*</text>
<text x="640.4" y="111.77" font-size="10" font-weight="bold" text-anchor="middle">*</text>
<text x="668.9" y="111.77" font-size="10" font-weight="bold" text-anchor="middle">*</text>
<text transform="translate(537.00 123.89) scale(0.84 1)" font-size="12.1" text-anchor="start">EGR1_TSS1</text>
<text x="614.4" y="124.39" font-size="10" font-weight="bold" text-anchor="middle">*</text>
<text x="668.9" y="124.39" font-size="10" font-weight="bold" text-anchor="middle">*</text>
<text transform="translate(537.00 136.51) scale(0.84 1)" font-size="12.1" text-anchor="start">EGR1_TSS2</text>
<text x="614.4" y="137.01" font-size="10" font-weight="bold" text-anchor="middle">*</text>
<text x="640.4" y="137.01" font-size="10" font-weight="bold" text-anchor="middle">*</text>
<text x="668.9" y="137.01" font-size="10" font-weight="bold" text-anchor="middle">*</text>
<text transform="translate(537.00 149.13) scale(0.84 1)" font-size="12.1" text-anchor="start">LINC00473</text>
<text x="614.4" y="149.63" font-size="10" font-weight="bold" text-anchor="middle">*</text>
<text x="640.4" y="149.63" font-size="10" font-weight="bold" text-anchor="middle">*</text>
<text x="668.9" y="149.63" font-size="10" font-weight="bold" text-anchor="middle">*</text>
<text transform="translate(537.00 161.75) scale(0.84 1)" font-size="12.1" text-anchor="start">LINC00643</text>
<text x="640.4" y="162.25" font-size="10" font-weight="bold" text-anchor="middle">*</text>
<text transform="translate(537.00 174.37) scale(0.84 1)" font-size="12.1" text-anchor="start">FOS_TSS2</text>
<text x="640.4" y="174.87" font-size="10" font-weight="bold" text-anchor="middle">*</text>
<text transform="translate(537.00 186.99) scale(0.84 1)" font-size="12.1" text-anchor="start">FOS_TSS3</text>
<text x="640.4" y="187.49" font-size="10" font-weight="bold" text-anchor="middle">*</text>
<text x="668.9" y="187.49" font-size="10" font-weight="bold" text-anchor="middle">*</text>
<text transform="translate(537.00 199.61) scale(0.84 1)" font-size="12.1" text-anchor="start">IER2</text>
<text x="640.4" y="200.11" font-size="10" font-weight="bold" text-anchor="middle">*</text>
<text x="668.9" y="200.11" font-size="10" font-weight="bold" text-anchor="middle">*</text>
<text transform="translate(537.00 212.23) scale(0.84 1)" font-size="12.1" text-anchor="start">ZFP36</text>
<text x="640.4" y="212.73" font-size="10" font-weight="bold" text-anchor="middle">*</text>
<text x="668.9" y="212.73" font-size="10" font-weight="bold" text-anchor="middle">*</text>
<text transform="translate(537.00 224.85) scale(0.84 1)" font-size="12.1" text-anchor="start">FOSB</text>
<text x="640.4" y="225.35" font-size="10" font-weight="bold" text-anchor="middle">*</text>
<text x="668.9" y="225.35" font-size="10" font-weight="bold" text-anchor="middle">*</text>
<text transform="translate(537.00 237.47) scale(0.84 1)" font-size="12.1" text-anchor="start">MT-TF</text>
<text x="640.4" y="237.97" font-size="10" font-weight="bold" text-anchor="middle">*</text>
<text transform="translate(537.00 250.09) scale(0.84 1)" font-size="12.1" text-anchor="start">DUSP6</text>
<text x="640.4" y="250.59" font-size="10" font-weight="bold" text-anchor="middle">*</text>
<text x="668.9" y="250.59" font-size="10" font-weight="bold" text-anchor="middle">*</text>
<text transform="translate(537.00 262.71) scale(0.84 1)" font-size="12.1" text-anchor="start">CYR61</text>
<text x="668.9" y="263.21" font-size="10" font-weight="bold" text-anchor="middle">*</text>
<text transform="translate(537.00 275.33) scale(0.84 1)" font-size="12.1" text-anchor="start">DUSP5</text>
<text x="668.9" y="275.83" font-size="10" font-weight="bold" text-anchor="middle">*</text>
<text transform="translate(537.00 287.95) scale(0.84 1)" font-size="12.1" text-anchor="start">NPAS4</text>
<text x="668.9" y="288.45" font-size="10" font-weight="bold" text-anchor="middle">*</text>
<text transform="translate(537.00 300.57) scale(0.84 1)" font-size="12.1" text-anchor="start">FOS_TSS4</text>
<text x="668.9" y="301.07" font-size="10" font-weight="bold" text-anchor="middle">*</text>
<text transform="translate(537.00 313.19) scale(0.84 1)" font-size="12.1" text-anchor="start">GADD45B</text>
<text x="668.9" y="313.69" font-size="10" font-weight="bold" text-anchor="middle">*</text>
<text transform="translate(537.00 325.81) scale(0.84 1)" font-size="12.1" text-anchor="start">JUNB</text>
<text x="668.9" y="326.31" font-size="10" font-weight="bold" text-anchor="middle">*</text>
<text transform="translate(537.00 338.43) scale(0.84 1)" font-size="12.1" text-anchor="start">EGR2</text>
<text x="668.9" y="338.93" font-size="10" font-weight="bold" text-anchor="middle">*</text>
<text transform="translate(537.00 351.05) scale(0.84 1)" font-size="12.1" text-anchor="start">CXCL3</text>
<text x="668.9" y="351.55" font-size="10" font-weight="bold" text-anchor="middle">*</text>
<text transform="translate(537.00 363.67) scale(0.84 1)" font-size="12.1" text-anchor="start">EGR3</text>
<text x="668.9" y="364.17" font-size="10" font-weight="bold" text-anchor="middle">*</text>
</svg></body></html>
